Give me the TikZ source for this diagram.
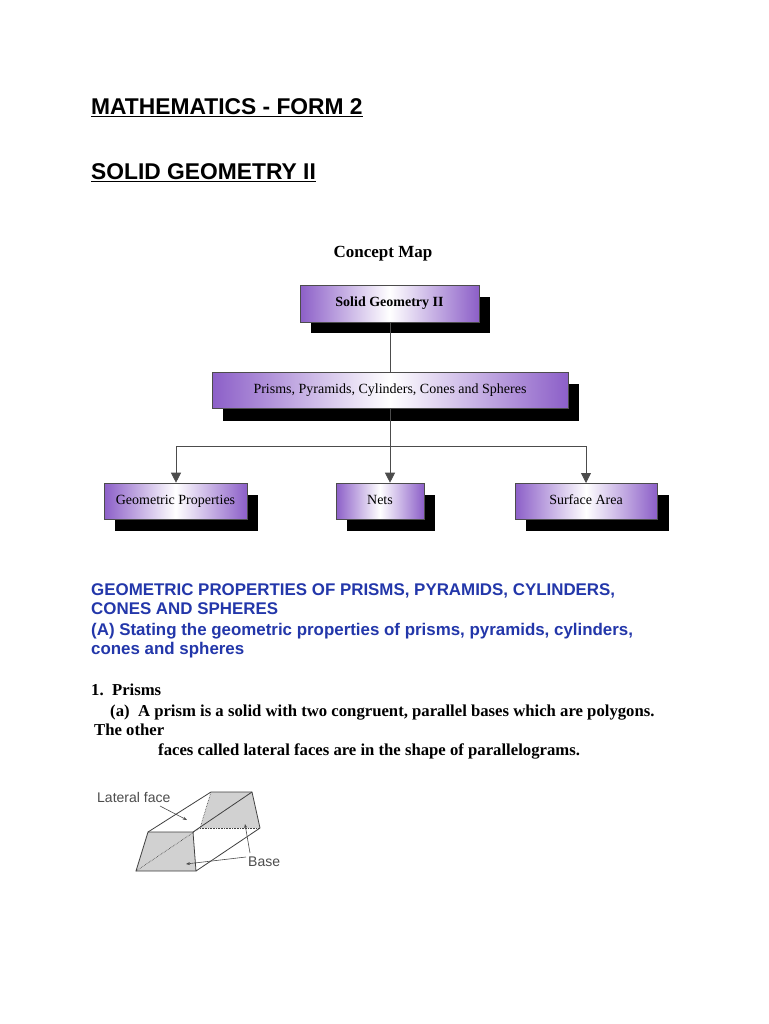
\documentclass[tikz,border=0pt]{standalone}
\usepackage{fontspec}
\setmainfont{Liberation Serif}
\newfontfamily\arial{Liberation Sans}
\usetikzlibrary{arrows.meta,shadows}
\definecolor{pur}{RGB}{140,95,200}
\definecolor{hblue}{RGB}{35,55,170}
\begin{document}
\begin{tikzpicture}[x=1pt,y=-1pt,
  cbox/.style={draw=black!70,line width=0.6pt,left color=pur,right color=pur,middle color=white,font=\fontsize{14}{16}\selectfont,text height=9pt,text depth=2.5pt,inner sep=0},
  shad/.style={fill=black},
  conn/.style={draw=black!70,line width=0.8pt},
  arr/.style={conn,-{Triangle[length=10pt,width=10pt]}},
  head/.style={anchor=base west,inner sep=0,font=\arial\bfseries\fontsize{16.9}{18}\selectfont,text=hblue},
  body/.style={anchor=base west,inner sep=0,font=\bfseries\fontsize{16.7}{18}\selectfont}]
\useasboundingbox (0,0) rectangle (768,1024);
\fill[white] (0,0) rectangle (768,1024);
% titles
\node[anchor=base west,inner sep=0,font=\arial\bfseries\fontsize{22.8}{25}\selectfont] (t1) at (91,115) {\underline{MATHEMATICS - FORM 2}};
\node[anchor=base west,inner sep=0,font=\arial\bfseries\fontsize{22.8}{25}\selectfont] (t2) at (91,180) {\underline{SOLID GEOMETRY II}};
\node[font=\bfseries\fontsize{17}{19}\selectfont] (cm) at (383,254) {Concept Map};
% shadows
\fill[shad] (311,297) rectangle (490,333);
\fill[shad] (223,384) rectangle (579,421);
\fill[shad] (115,495) rectangle (258,531);
\fill[shad] (347,495) rectangle (435,531);
\fill[shad] (526,495) rectangle (669,531);
% boxes
\node[cbox,minimum width=179,minimum height=37,font=\bfseries\fontsize{14}{16}\selectfont] (sg) at (389.5,303.5) {Solid Geometry II};
\node[cbox,minimum width=356,minimum height=36] (pp) at (390,390) {Prisms, Pyramids, Cylinders, Cones and Spheres};
\node[cbox,minimum width=143,minimum height=36] (gp) at (175.5,501) {Geometric Properties};
\node[cbox,minimum width=88,minimum height=36] (nt) at (380,501) {Nets};
\node[cbox,minimum width=142,minimum height=36] (sa) at (586,501) {Surface Area};
\coordinate (j) at (390,446);
\draw[conn] (sg.south -| j) -- (pp.north -| j);
\draw[conn] (pp.south -| j) -- (j);
\draw[conn] (176,446) -- (586,446);
\draw[arr] (176,446) -- (gp.north -| 176,0);
\draw[arr] (j) -- (j |- nt.north);
\draw[arr] (586,446) -- (586,483);
% headings
\node[head] (h1) at (91,595) {GEOMETRIC PROPERTIES OF PRISMS, PYRAMIDS, CYLINDERS,};
\node[head] (h2) at (91,614) {CONES AND SPHERES};
\node[head] (h3) at (91,635) {(A) Stating the geometric properties of prisms, pyramids, cylinders,};
\node[head] (h4) at (91,654) {cones and spheres};
\node[body] (b1) at (91,695) {1.\ \ Prisms};
\node[body] (b2) at (110,716) {(a)\ \ A prism is a solid with two congruent, parallel bases which are polygons.};
\node[body] (b3) at (94,735) {The other};
\node[body] (b4) at (158,755) {faces called lateral faces are in the shape of parallelograms.};
% prism
\fill[black!18] (148,832) -- (193,832) -- (196,871) -- (136,871) -- cycle;
\fill[black!18] (211,792) -- (252,792) -- (260,828) -- (200,828) -- cycle;
\draw[black!75,line width=0.8pt] (136,871) -- (148,832) -- (193,832) -- (196,871) -- cycle;
\draw[black!75,line width=0.8pt] (148,832) -- (211,792) -- (252,792) -- (260,828) -- (196,871);
\draw[black!75,line width=0.8pt] (193,832) -- (252,792);
\draw[black!75,line width=0.6pt,densely dotted] (136,871) -- (200,828) -- (211,792);
\draw[black!75,line width=0.6pt,densely dotted] (200,828) -- (260,828);
\node[anchor=base west,inner sep=0,font=\arial\fontsize{14}{16}\selectfont,text=black!70] (lf) at (97,802) {Lateral face};
\node[anchor=base west,inner sep=0,font=\arial\fontsize{14}{16}\selectfont,text=black!70] (bs) at (248,866) {Base};
\draw[black!70,line width=0.6pt,-{Stealth[length=4pt]}] (160,806) -- (187,820);
\draw[black!70,line width=0.6pt,-{Stealth[length=4pt]}] (246,857) -- (186,864);
\draw[black!70,line width=0.6pt,-{Stealth[length=4pt]}] (250,853) -- (245,824);
\end{tikzpicture}
\end{document}
